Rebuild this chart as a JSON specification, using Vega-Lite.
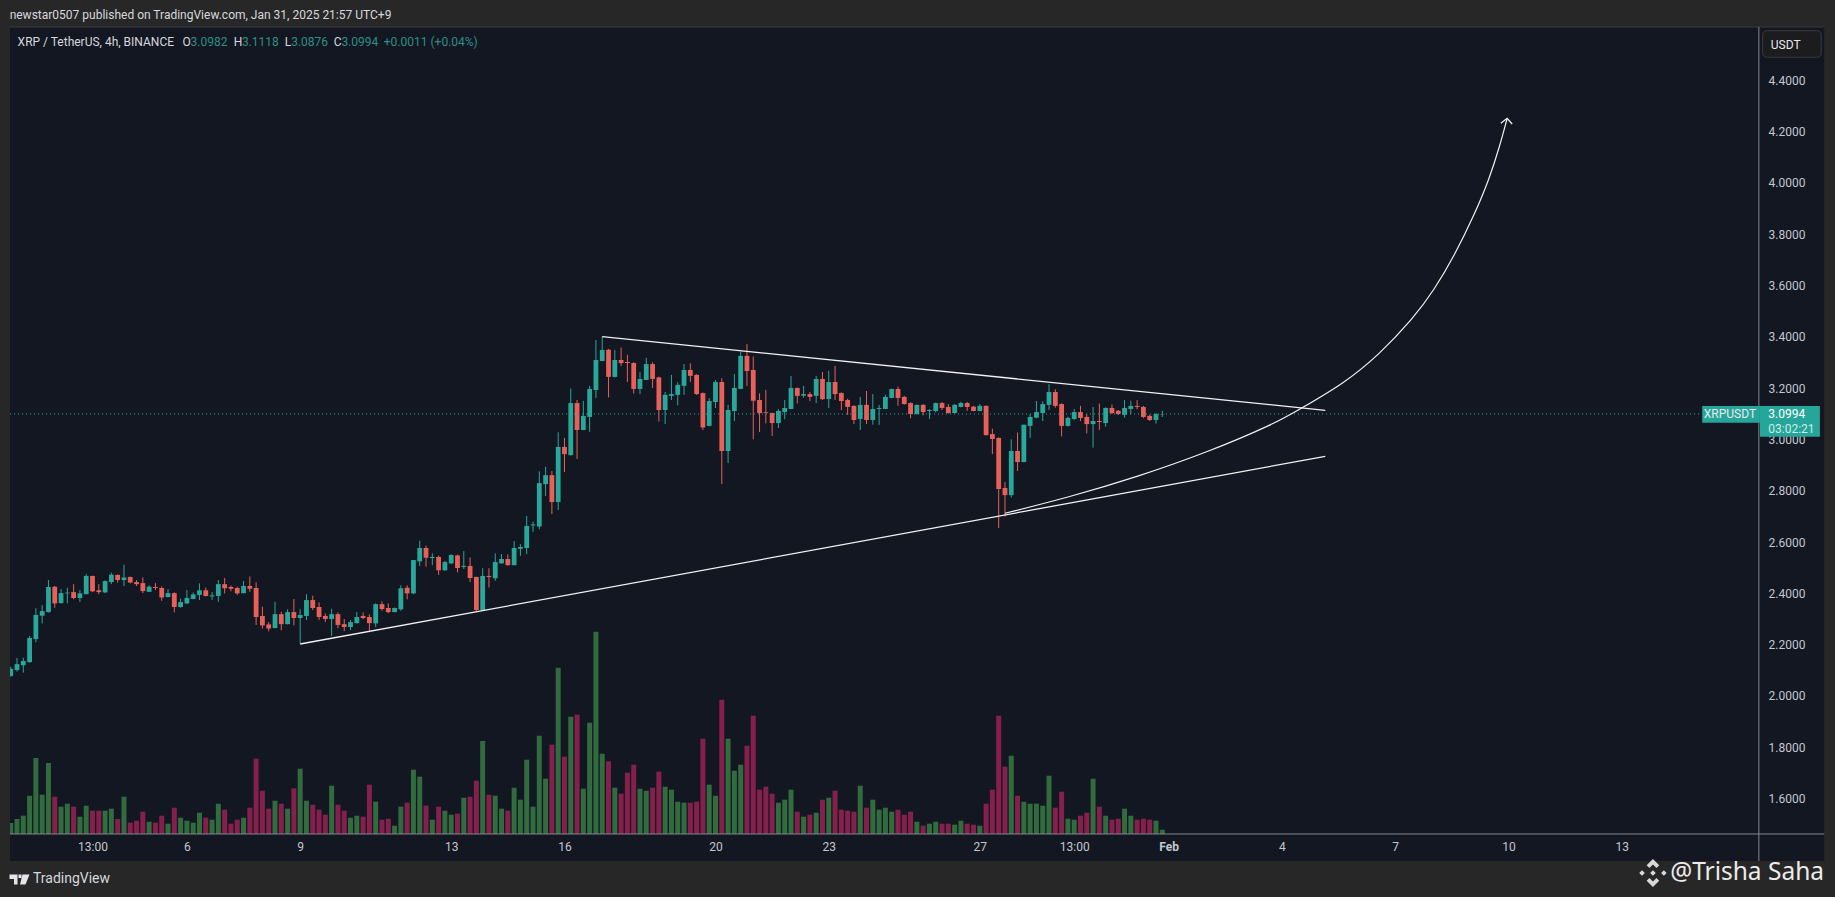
{
  "$schema": "https://vega.github.io/schema/vega-lite/v6.json",
  "description": "XRP / TetherUS 4h candles with volume, triangle trendlines and a projected breakout curve.",
  "width": 1835,
  "height": 897,
  "autosize": {"type": "none"},
  "padding": 0,
  "background": "#272727",
  "view": {"fill": "#131722", "stroke": null},
  "config": {"scale": {"continuousPadding": 0}},
  "data": {"values": [
    {"i":0,"o":2.078,"h":2.114,"l":2.075,"c":2.106,"v":11},
    {"i":1,"o":2.101,"h":2.148,"l":2.095,"c":2.124,"v":15},
    {"i":2,"o":2.12,"h":2.149,"l":2.091,"c":2.136,"v":18.3},
    {"i":3,"o":2.132,"h":2.234,"l":2.13,"c":2.226,"v":38.3},
    {"i":4,"o":2.222,"h":2.342,"l":2.209,"c":2.316,"v":76},
    {"i":5,"o":2.313,"h":2.354,"l":2.283,"c":2.331,"v":39.3},
    {"i":6,"o":2.327,"h":2.452,"l":2.325,"c":2.425,"v":71},
    {"i":7,"o":2.426,"h":2.429,"l":2.344,"c":2.361,"v":37.3},
    {"i":8,"o":2.362,"h":2.417,"l":2.361,"c":2.401,"v":27.3},
    {"i":9,"o":2.4,"h":2.422,"l":2.361,"c":2.403,"v":30.3},
    {"i":10,"o":2.405,"h":2.436,"l":2.377,"c":2.382,"v":27.3},
    {"i":11,"o":2.382,"h":2.413,"l":2.366,"c":2.4,"v":17.3},
    {"i":12,"o":2.397,"h":2.475,"l":2.396,"c":2.468,"v":28.3},
    {"i":13,"o":2.468,"h":2.469,"l":2.405,"c":2.408,"v":23.3},
    {"i":14,"o":2.412,"h":2.436,"l":2.397,"c":2.405,"v":23.3},
    {"i":15,"o":2.404,"h":2.451,"l":2.401,"c":2.448,"v":23.3},
    {"i":16,"o":2.444,"h":2.481,"l":2.436,"c":2.473,"v":25.3},
    {"i":17,"o":2.472,"h":2.474,"l":2.442,"c":2.452,"v":15},
    {"i":18,"o":2.452,"h":2.512,"l":2.429,"c":2.462,"v":37.3},
    {"i":19,"o":2.464,"h":2.466,"l":2.439,"c":2.442,"v":11.3},
    {"i":20,"o":2.444,"h":2.452,"l":2.429,"c":2.436,"v":13.3},
    {"i":21,"o":2.44,"h":2.462,"l":2.401,"c":2.409,"v":22.3},
    {"i":22,"o":2.406,"h":2.432,"l":2.405,"c":2.426,"v":12.3},
    {"i":23,"o":2.425,"h":2.44,"l":2.413,"c":2.421,"v":11.3},
    {"i":24,"o":2.421,"h":2.427,"l":2.371,"c":2.384,"v":18.3},
    {"i":25,"o":2.386,"h":2.417,"l":2.384,"c":2.401,"v":10.3},
    {"i":26,"o":2.401,"h":2.404,"l":2.326,"c":2.347,"v":26.3},
    {"i":27,"o":2.347,"h":2.38,"l":2.344,"c":2.366,"v":16.3},
    {"i":28,"o":2.361,"h":2.413,"l":2.358,"c":2.382,"v":13.3},
    {"i":29,"o":2.378,"h":2.404,"l":2.377,"c":2.396,"v":11.3},
    {"i":30,"o":2.394,"h":2.439,"l":2.374,"c":2.412,"v":21.3},
    {"i":31,"o":2.412,"h":2.423,"l":2.388,"c":2.39,"v":16.3},
    {"i":32,"o":2.388,"h":2.405,"l":2.374,"c":2.392,"v":14.3},
    {"i":33,"o":2.39,"h":2.452,"l":2.367,"c":2.436,"v":30.3},
    {"i":34,"o":2.436,"h":2.46,"l":2.4,"c":2.42,"v":24.3},
    {"i":35,"o":2.425,"h":2.431,"l":2.408,"c":2.418,"v":10.3},
    {"i":36,"o":2.421,"h":2.426,"l":2.394,"c":2.4,"v":14.3},
    {"i":37,"o":2.401,"h":2.448,"l":2.4,"c":2.429,"v":16.3},
    {"i":38,"o":2.429,"h":2.466,"l":2.406,"c":2.418,"v":26.3},
    {"i":39,"o":2.421,"h":2.443,"l":2.277,"c":2.308,"v":75.3},
    {"i":40,"o":2.312,"h":2.348,"l":2.263,"c":2.275,"v":43.3},
    {"i":41,"o":2.279,"h":2.288,"l":2.252,"c":2.263,"v":25.3},
    {"i":42,"o":2.265,"h":2.367,"l":2.263,"c":2.319,"v":33.3},
    {"i":43,"o":2.319,"h":2.329,"l":2.256,"c":2.28,"v":30.3},
    {"i":44,"o":2.28,"h":2.338,"l":2.279,"c":2.327,"v":25.3},
    {"i":45,"o":2.327,"h":2.378,"l":2.275,"c":2.304,"v":45.7},
    {"i":46,"o":2.304,"h":2.338,"l":2.205,"c":2.316,"v":65.3},
    {"i":47,"o":2.312,"h":2.397,"l":2.296,"c":2.374,"v":33.3},
    {"i":48,"o":2.374,"h":2.391,"l":2.335,"c":2.343,"v":29.3},
    {"i":49,"o":2.347,"h":2.365,"l":2.296,"c":2.308,"v":24.3},
    {"i":50,"o":2.312,"h":2.322,"l":2.288,"c":2.3,"v":19.3},
    {"i":51,"o":2.3,"h":2.34,"l":2.234,"c":2.319,"v":48.3},
    {"i":52,"o":2.319,"h":2.326,"l":2.265,"c":2.277,"v":29.3},
    {"i":53,"o":2.28,"h":2.3,"l":2.253,"c":2.269,"v":23.3},
    {"i":54,"o":2.269,"h":2.296,"l":2.257,"c":2.288,"v":16.3},
    {"i":55,"o":2.284,"h":2.327,"l":2.283,"c":2.308,"v":18.3},
    {"i":56,"o":2.312,"h":2.326,"l":2.299,"c":2.304,"v":17.3},
    {"i":57,"o":2.308,"h":2.318,"l":2.249,"c":2.284,"v":49.3},
    {"i":58,"o":2.283,"h":2.361,"l":2.269,"c":2.358,"v":32.3},
    {"i":59,"o":2.358,"h":2.369,"l":2.332,"c":2.339,"v":14.3},
    {"i":60,"o":2.343,"h":2.361,"l":2.323,"c":2.327,"v":15.3},
    {"i":61,"o":2.327,"h":2.345,"l":2.327,"c":2.343,"v":8.3},
    {"i":62,"o":2.338,"h":2.432,"l":2.332,"c":2.42,"v":27.3},
    {"i":63,"o":2.422,"h":2.431,"l":2.377,"c":2.4,"v":31.3},
    {"i":64,"o":2.4,"h":2.53,"l":2.397,"c":2.53,"v":64.3},
    {"i":65,"o":2.525,"h":2.605,"l":2.507,"c":2.577,"v":57.3},
    {"i":66,"o":2.577,"h":2.586,"l":2.504,"c":2.539,"v":28.3},
    {"i":67,"o":2.538,"h":2.556,"l":2.51,"c":2.542,"v":14.3},
    {"i":68,"o":2.542,"h":2.547,"l":2.472,"c":2.49,"v":27.3},
    {"i":69,"o":2.49,"h":2.527,"l":2.488,"c":2.522,"v":23.3},
    {"i":70,"o":2.517,"h":2.552,"l":2.514,"c":2.55,"v":19.3},
    {"i":71,"o":2.548,"h":2.551,"l":2.482,"c":2.499,"v":20.3},
    {"i":72,"o":2.503,"h":2.565,"l":2.495,"c":2.507,"v":36.3},
    {"i":73,"o":2.507,"h":2.54,"l":2.444,"c":2.46,"v":37.3},
    {"i":74,"o":2.464,"h":2.465,"l":2.332,"c":2.335,"v":53.3},
    {"i":75,"o":2.335,"h":2.498,"l":2.332,"c":2.468,"v":93},
    {"i":76,"o":2.468,"h":2.498,"l":2.423,"c":2.464,"v":39.3},
    {"i":77,"o":2.459,"h":2.556,"l":2.449,"c":2.522,"v":38.3},
    {"i":78,"o":2.517,"h":2.553,"l":2.516,"c":2.534,"v":25.3},
    {"i":79,"o":2.534,"h":2.552,"l":2.508,"c":2.51,"v":23.3},
    {"i":80,"o":2.51,"h":2.604,"l":2.509,"c":2.577,"v":46.3},
    {"i":81,"o":2.574,"h":2.592,"l":2.546,"c":2.581,"v":34.3},
    {"i":82,"o":2.577,"h":2.702,"l":2.553,"c":2.663,"v":74.3},
    {"i":83,"o":2.665,"h":2.68,"l":2.64,"c":2.669,"v":27.3},
    {"i":84,"o":2.661,"h":2.876,"l":2.65,"c":2.83,"v":98.3},
    {"i":85,"o":2.826,"h":2.893,"l":2.78,"c":2.861,"v":55.3},
    {"i":86,"o":2.861,"h":2.877,"l":2.709,"c":2.756,"v":89.3},
    {"i":87,"o":2.756,"h":3.028,"l":2.725,"c":2.971,"v":166.3},
    {"i":88,"o":2.971,"h":3.006,"l":2.873,"c":2.943,"v":77.3},
    {"i":89,"o":2.939,"h":3.199,"l":2.937,"c":3.142,"v":117.3},
    {"i":90,"o":3.142,"h":3.154,"l":2.924,"c":3.037,"v":119.3},
    {"i":91,"o":3.037,"h":3.15,"l":3.036,"c":3.092,"v":45.3},
    {"i":92,"o":3.088,"h":3.209,"l":3.03,"c":3.197,"v":111.3},
    {"i":93,"o":3.193,"h":3.388,"l":3.162,"c":3.31,"v":202.3},
    {"i":94,"o":3.306,"h":3.401,"l":3.305,"c":3.349,"v":80.3},
    {"i":95,"o":3.35,"h":3.353,"l":3.164,"c":3.244,"v":72.7},
    {"i":96,"o":3.244,"h":3.349,"l":3.242,"c":3.31,"v":46.3},
    {"i":97,"o":3.31,"h":3.358,"l":3.287,"c":3.298,"v":40.3},
    {"i":98,"o":3.302,"h":3.33,"l":3.224,"c":3.298,"v":61.3},
    {"i":99,"o":3.298,"h":3.301,"l":3.179,"c":3.197,"v":69.3},
    {"i":100,"o":3.197,"h":3.263,"l":3.177,"c":3.236,"v":45.3},
    {"i":101,"o":3.232,"h":3.318,"l":3.231,"c":3.294,"v":43.3},
    {"i":102,"o":3.294,"h":3.301,"l":3.201,"c":3.236,"v":46.3},
    {"i":103,"o":3.242,"h":3.245,"l":3.07,"c":3.115,"v":62.3},
    {"i":104,"o":3.115,"h":3.185,"l":3.06,"c":3.174,"v":47.3},
    {"i":105,"o":3.17,"h":3.252,"l":3.154,"c":3.177,"v":44.3},
    {"i":106,"o":3.174,"h":3.223,"l":3.133,"c":3.213,"v":32.3},
    {"i":107,"o":3.209,"h":3.294,"l":3.174,"c":3.271,"v":31.3},
    {"i":108,"o":3.271,"h":3.297,"l":3.224,"c":3.248,"v":31.3},
    {"i":109,"o":3.252,"h":3.254,"l":3.174,"c":3.177,"v":32.3},
    {"i":110,"o":3.181,"h":3.183,"l":3.037,"c":3.047,"v":95.3},
    {"i":111,"o":3.053,"h":3.161,"l":3.051,"c":3.15,"v":49.3},
    {"i":112,"o":3.146,"h":3.232,"l":3.123,"c":3.224,"v":38.3},
    {"i":113,"o":3.224,"h":3.239,"l":2.826,"c":2.955,"v":134.3},
    {"i":114,"o":2.955,"h":3.135,"l":2.908,"c":3.115,"v":95.3},
    {"i":115,"o":3.111,"h":3.255,"l":3.072,"c":3.201,"v":63.3},
    {"i":116,"o":3.197,"h":3.342,"l":3.196,"c":3.326,"v":69.3},
    {"i":117,"o":3.326,"h":3.372,"l":3.209,"c":3.267,"v":88.3},
    {"i":118,"o":3.271,"h":3.323,"l":3.001,"c":3.151,"v":118.3},
    {"i":119,"o":3.154,"h":3.18,"l":3.029,"c":3.103,"v":44.3},
    {"i":120,"o":3.106,"h":3.193,"l":3.063,"c":3.103,"v":47.3},
    {"i":121,"o":3.103,"h":3.105,"l":3.014,"c":3.064,"v":40.3},
    {"i":122,"o":3.064,"h":3.119,"l":3.045,"c":3.111,"v":31.3},
    {"i":123,"o":3.107,"h":3.154,"l":3.079,"c":3.123,"v":34.3},
    {"i":124,"o":3.119,"h":3.248,"l":3.118,"c":3.201,"v":44.3},
    {"i":125,"o":3.201,"h":3.202,"l":3.141,"c":3.17,"v":22.3},
    {"i":126,"o":3.171,"h":3.209,"l":3.163,"c":3.177,"v":17.3},
    {"i":127,"o":3.177,"h":3.185,"l":3.15,"c":3.166,"v":19.3},
    {"i":128,"o":3.17,"h":3.248,"l":3.142,"c":3.236,"v":21.3},
    {"i":129,"o":3.236,"h":3.263,"l":3.154,"c":3.157,"v":34.3},
    {"i":130,"o":3.158,"h":3.268,"l":3.123,"c":3.224,"v":36.3},
    {"i":131,"o":3.224,"h":3.287,"l":3.154,"c":3.177,"v":43.3},
    {"i":132,"o":3.181,"h":3.184,"l":3.115,"c":3.15,"v":24.3},
    {"i":133,"o":3.154,"h":3.159,"l":3.096,"c":3.127,"v":23.3},
    {"i":134,"o":3.131,"h":3.133,"l":3.06,"c":3.076,"v":22.3},
    {"i":135,"o":3.08,"h":3.166,"l":3.037,"c":3.135,"v":48.3},
    {"i":136,"o":3.135,"h":3.189,"l":3.06,"c":3.076,"v":26.3},
    {"i":137,"o":3.076,"h":3.177,"l":3.058,"c":3.119,"v":34.3},
    {"i":138,"o":3.119,"h":3.135,"l":3.057,"c":3.123,"v":24.3},
    {"i":139,"o":3.119,"h":3.175,"l":3.118,"c":3.166,"v":26.3},
    {"i":140,"o":3.162,"h":3.198,"l":3.161,"c":3.197,"v":22.3},
    {"i":141,"o":3.197,"h":3.206,"l":3.131,"c":3.162,"v":24.3},
    {"i":142,"o":3.166,"h":3.17,"l":3.136,"c":3.138,"v":19.3},
    {"i":143,"o":3.142,"h":3.145,"l":3.083,"c":3.099,"v":22.3},
    {"i":144,"o":3.099,"h":3.136,"l":3.098,"c":3.135,"v":12.3},
    {"i":145,"o":3.135,"h":3.138,"l":3.094,"c":3.107,"v":8.3},
    {"i":146,"o":3.111,"h":3.118,"l":3.08,"c":3.115,"v":10.3},
    {"i":147,"o":3.111,"h":3.144,"l":3.105,"c":3.142,"v":12.3},
    {"i":148,"o":3.142,"h":3.146,"l":3.115,"c":3.123,"v":10.3},
    {"i":149,"o":3.127,"h":3.138,"l":3.101,"c":3.103,"v":10.3},
    {"i":150,"o":3.103,"h":3.138,"l":3.102,"c":3.135,"v":9.3},
    {"i":151,"o":3.127,"h":3.147,"l":3.125,"c":3.142,"v":13.3},
    {"i":152,"o":3.142,"h":3.146,"l":3.112,"c":3.127,"v":10.3},
    {"i":153,"o":3.128,"h":3.131,"l":3.11,"c":3.111,"v":9.3},
    {"i":154,"o":3.111,"h":3.138,"l":3.11,"c":3.131,"v":8.3},
    {"i":155,"o":3.131,"h":3.133,"l":3.016,"c":3.017,"v":30.3},
    {"i":156,"o":3.021,"h":3.042,"l":2.943,"c":3.002,"v":44.3},
    {"i":157,"o":3.006,"h":3.008,"l":2.655,"c":2.807,"v":118.3},
    {"i":158,"o":2.811,"h":2.834,"l":2.699,"c":2.783,"v":67.3},
    {"i":159,"o":2.783,"h":3.001,"l":2.774,"c":2.955,"v":78.3},
    {"i":160,"o":2.955,"h":3.027,"l":2.877,"c":2.912,"v":38.3},
    {"i":161,"o":2.912,"h":3.058,"l":2.911,"c":3.057,"v":32.3},
    {"i":162,"o":3.053,"h":3.099,"l":3.006,"c":3.088,"v":30.3},
    {"i":163,"o":3.085,"h":3.15,"l":3.082,"c":3.107,"v":30.3},
    {"i":164,"o":3.103,"h":3.149,"l":3.072,"c":3.138,"v":28.3},
    {"i":165,"o":3.135,"h":3.216,"l":3.115,"c":3.185,"v":58.3},
    {"i":166,"o":3.185,"h":3.196,"l":3.124,"c":3.131,"v":26.3},
    {"i":167,"o":3.138,"h":3.141,"l":3.012,"c":3.053,"v":42.3},
    {"i":168,"o":3.053,"h":3.089,"l":3.05,"c":3.084,"v":15.3},
    {"i":169,"o":3.08,"h":3.119,"l":3.076,"c":3.107,"v":14.3},
    {"i":170,"o":3.107,"h":3.131,"l":3.072,"c":3.084,"v":18.3},
    {"i":171,"o":3.088,"h":3.099,"l":3.024,"c":3.06,"v":21.3},
    {"i":172,"o":3.06,"h":3.127,"l":2.968,"c":3.072,"v":55.3},
    {"i":173,"o":3.072,"h":3.14,"l":3.037,"c":3.068,"v":27.3},
    {"i":174,"o":3.064,"h":3.125,"l":3.05,"c":3.123,"v":18.3},
    {"i":175,"o":3.123,"h":3.136,"l":3.099,"c":3.103,"v":14.3},
    {"i":176,"o":3.112,"h":3.115,"l":3.096,"c":3.099,"v":15.3},
    {"i":177,"o":3.096,"h":3.154,"l":3.085,"c":3.123,"v":25.3},
    {"i":178,"o":3.119,"h":3.151,"l":3.099,"c":3.131,"v":18.3},
    {"i":179,"o":3.131,"h":3.153,"l":3.118,"c":3.127,"v":14.3},
    {"i":180,"o":3.127,"h":3.131,"l":3.083,"c":3.088,"v":15.3},
    {"i":181,"o":3.092,"h":3.096,"l":3.072,"c":3.076,"v":14.3},
    {"i":182,"o":3.076,"h":3.102,"l":3.062,"c":3.099,"v":13.3},
    {"i":183,"o":3.0982,"h":3.1118,"l":3.0876,"c":3.0994,"v":4.3}
  ]},
  "resolve": {"scale": {"y": "independent"}},
  "layer": [
    {
      "mark": {"type": "bar", "size": 5, "orient": "vertical"},
      "encoding": {
        "x": {"field": "i", "type": "quantitative", "scale": {"domain": [-1.7, 289.9]}},
        "y": {"field": "v", "type": "quantitative", "stack": null, "scale": {"domain": [-63, 834]}, "axis": null},
        "y2": {"datum": 0},
        "color": {"condition": {"test": "datum.c >= datum.o", "value": "#316B3E"}, "value": "#851F4C"}
      }
    },
    {
      "layer": [
        {
          "mark": {"type": "rule", "strokeWidth": 1},
          "encoding": {
            "x": {"field": "i", "type": "quantitative", "scale": {"domain": [-1.7, 289.9]},
              "axis": {
                "orient": "bottom", "offset": -63, "title": null, "grid": false, "ticks": false, "domain": false,
                "values": [13, 28, 46, 70, 88, 112, 130, 154, 169, 184, 202, 220, 238, 256],
                "labelExpr": "datum.value == 13 || datum.value == 169 ? '13:00' : datum.value == 28 ? '6' : datum.value == 46 ? '9' : datum.value == 70 ? '13' : datum.value == 88 ? '16' : datum.value == 112 ? '20' : datum.value == 130 ? '23' : datum.value == 154 ? '27' : datum.value == 184 ? 'Feb' : datum.value == 202 ? '4' : datum.value == 220 ? '7' : datum.value == 238 ? '10' : '13'",
                "labelFont": "Roboto", "labelFontSize": 12, "labelColor": "#c3c6ce", "labelPadding": 7, "labelOverlap": false, "labelFlush": false,
                "labelFontWeight": {"condition": {"test": "datum.value == 184", "value": "bold"}, "value": "normal"}
              }
            },
            "y": {"field": "h", "type": "quantitative", "scale": {"domain": [1.2163, 4.7134]},
              "axis": {
                "orient": "right", "offset": -76, "title": null, "grid": false, "ticks": false, "domain": false,
                "values": [1.6, 1.8, 2, 2.2, 2.4, 2.6, 2.8, 3, 3.2, 3.4, 3.6, 3.8, 4, 4.2, 4.4],
                "format": ".4f", "labelFont": "Roboto", "labelFontSize": 12, "labelColor": "#c3c6ce", "labelPadding": 9, "labelOverlap": false, "labelFlush": false
              }
            },
            "y2": {"field": "l"},
            "color": {"condition": {"test": "datum.c >= datum.o", "value": "#2AA79B"}, "value": "#E8605A"}
          }
        },
        {
          "mark": {"type": "bar", "size": 4.8, "orient": "vertical"},
          "encoding": {
            "x": {"field": "i", "type": "quantitative", "scale": {"domain": [-1.7, 289.9]}},
            "y": {"field": "o", "type": "quantitative", "stack": null, "scale": {"domain": [1.2163, 4.7134]}},
            "y2": {"field": "c"},
            "color": {"condition": {"test": "datum.c >= datum.o", "value": "#2AA79B"}, "value": "#E8605A"}
          }
        },
        {
          "data": {"values": [
            {"i": -1.7, "i2": 289.9, "p": 4.6082, "p2": 4.7134},
            {"i": -1.7, "i2": 289.9, "p": 1.2163, "p2": 1.3567},
            {"i": -1.7, "i2": -0.11, "p": 1.3567, "p2": 4.6082},
            {"i": 288.2, "i2": 289.9, "p": 1.3567, "p2": 4.6082}
          ]},
          "mark": {"type": "rect", "color": "#272727"},
          "encoding": {
            "x": {"field": "i", "type": "quantitative", "scale": {"domain": [-1.7, 289.9]}},
            "x2": {"field": "i2"},
            "y": {"field": "p", "type": "quantitative", "scale": {"domain": [1.2163, 4.7134]}},
            "y2": {"field": "p2"}
          }
        },
        {
          "data": {"values": [{"i": -0.11, "i2": 288.2, "p": 4.6082}]},
          "mark": {"type": "rule", "strokeWidth": 1, "color": "#3C3C42"},
          "encoding": {
            "x": {"field": "i", "type": "quantitative", "scale": {"domain": [-1.7, 289.9]}},
            "x2": {"field": "i2"},
            "y": {"field": "p", "type": "quantitative", "scale": {"domain": [1.2163, 4.7134]}}
          }
        },
        {
          "data": {"values": [
            {"i": -0.11, "i2": 288.2, "p": 1.462, "p2": 1.462},
            {"i": 277.8, "i2": 277.8, "p": 1.3567, "p2": 4.6082}
          ]},
          "mark": {"type": "rule", "strokeWidth": 1, "color": "#85878E"},
          "encoding": {
            "x": {"field": "i", "type": "quantitative", "scale": {"domain": [-1.7, 289.9]}},
            "x2": {"field": "i2"},
            "y": {"field": "p", "type": "quantitative", "scale": {"domain": [1.2163, 4.7134]}},
            "y2": {"field": "p2"}
          }
        },
        {
          "data": {"values": [{"i": -0.11, "i2": 268.8, "p": 3.0994}]},
          "mark": {"type": "rule", "strokeWidth": 1, "strokeDash": [1, 3], "color": "#2AA79B"},
          "encoding": {
            "x": {"field": "i", "type": "quantitative", "scale": {"domain": [-1.7, 289.9]}},
            "x2": {"field": "i2"},
            "y": {"field": "p", "type": "quantitative", "scale": {"domain": [1.2163, 4.7134]}}
          }
        },
        {
          "data": {"values": [
            {"i": 94, "p": 3.401, "line": "upper"},
            {"i": 208.9, "p": 3.1138, "line": "upper"},
            {"i": 46, "p": 2.2027, "line": "lower"},
            {"i": 208.9, "p": 2.9345, "line": "lower"},
            {"i": 236.8, "p": 4.2327, "line": "head"},
            {"i": 237.8, "p": 4.2522, "line": "head"},
            {"i": 238.6, "p": 4.23, "line": "head"}
          ]},
          "mark": {"type": "line", "color": "#F2F2F2", "strokeWidth": 1.3},
          "encoding": {
            "x": {"field": "i", "type": "quantitative", "scale": {"domain": [-1.7, 289.9]}},
            "y": {"field": "p", "type": "quantitative", "scale": {"domain": [1.2163, 4.7134]}},
            "detail": {"field": "line"},
            "order": {"field": "i"}
          }
        },
        {
          "data": {"values": [
            {"i": 158, "p": 2.7123},
            {"i": 168.15, "p": 2.7746},
            {"i": 179.09, "p": 2.855},
            {"i": 190.03, "p": 2.9485},
            {"i": 201, "p": 3.0631},
            {"i": 204.8, "p": 3.1177},
            {"i": 211.9, "p": 3.2191},
            {"i": 217.4, "p": 3.3294},
            {"i": 222.9, "p": 3.4725},
            {"i": 226.2, "p": 3.5828},
            {"i": 229.4, "p": 3.7154},
            {"i": 232.7, "p": 3.8819},
            {"i": 234.9, "p": 4.0117},
            {"i": 236.6, "p": 4.1415},
            {"i": 237.8, "p": 4.2522}
          ]},
          "mark": {"type": "line", "color": "#F2F2F2", "strokeWidth": 1.2, "interpolate": "basis"},
          "encoding": {
            "x": {"field": "i", "type": "quantitative", "scale": {"domain": [-1.7, 289.9]}},
            "y": {"field": "p", "type": "quantitative", "scale": {"domain": [1.2163, 4.7134]}}
          }
        },
        {
          "data": {"values": [
            {"i": 268.8, "i2": 277.97, "p": 3.0655, "p2": 3.1306},
            {"i": 277.97, "i2": 287.5, "p": 3.0109, "p2": 3.1306}
          ]},
          "mark": {"type": "rect", "color": "#26A69A"},
          "encoding": {
            "x": {"field": "i", "type": "quantitative", "scale": {"domain": [-1.7, 289.9]}},
            "x2": {"field": "i2"},
            "y": {"field": "p", "type": "quantitative", "scale": {"domain": [1.2163, 4.7134]}},
            "y2": {"field": "p2"}
          }
        },
        {
          "data": {"values": [{"i": 278.4, "i2": 287.7, "p": 4.4901, "p2": 4.5937}]},
          "mark": {"type": "rect", "color": "#1C1C1E", "stroke": "#3A3A3E", "strokeWidth": 1, "cornerRadius": 4},
          "encoding": {
            "x": {"field": "i", "type": "quantitative", "scale": {"domain": [-1.7, 289.9]}},
            "x2": {"field": "i2"},
            "y": {"field": "p", "type": "quantitative", "scale": {"domain": [1.2163, 4.7134]}},
            "y2": {"field": "p2"}
          }
        },
        {
          "data": {"values": [
            {"i": -0.17, "p": 4.655, "text": "newstar0507 published on TradingView.com, Jan 31, 2025 21:57 UTC+9", "tone": "plain"},
            {"i": 1.1, "p": 4.5509, "text": "XRP / TetherUS, 4h, BINANCE", "tone": "plain"},
            {"i": 27.3, "p": 4.5509, "text": "O", "tone": "plain"},
            {"i": 28.59, "p": 4.5509, "text": "3.0982", "tone": "up"},
            {"i": 35.45, "p": 4.5509, "text": "H", "tone": "plain"},
            {"i": 36.74, "p": 4.5509, "text": "3.1118", "tone": "up"},
            {"i": 43.54, "p": 4.5509, "text": "L", "tone": "plain"},
            {"i": 44.57, "p": 4.5509, "text": "3.0876", "tone": "up"},
            {"i": 51.33, "p": 4.5509, "text": "C", "tone": "plain"},
            {"i": 52.55, "p": 4.5509, "text": "3.0994", "tone": "up"},
            {"i": 59.29, "p": 4.5509, "text": "+0.0011 (+0.04%)", "tone": "up"},
            {"i": 279.3, "p": 3.0982, "text": "3.0994", "tone": "tag"},
            {"i": 279.3, "p": 3.0409, "text": "03:02:21", "tone": "countdown"}
          ]},
          "mark": {"type": "text", "align": "left", "baseline": "middle", "font": "Roboto", "fontSize": 12},
          "encoding": {
            "x": {"field": "i", "type": "quantitative", "scale": {"domain": [-1.7, 289.9]}},
            "y": {"field": "p", "type": "quantitative", "scale": {"domain": [1.2163, 4.7134]}},
            "text": {"field": "text"},
            "color": {"field": "tone", "scale": {"domain": ["plain", "up", "tag", "countdown"], "range": ["#D6D8DE", "#2E8F86", "#FFFFFF", "#CDECE8"]}, "legend": null}
          }
        },
        {
          "data": {"values": [
            {"i": 273.2, "p": 3.0982, "text": "XRPUSDT"},
            {"i": 282.06, "p": 4.5392, "text": "USDT"}
          ]},
          "mark": {"type": "text", "align": "center", "baseline": "middle", "font": "Roboto", "fontSize": 12, "color": "#E8E9EC"},
          "encoding": {
            "x": {"field": "i", "type": "quantitative", "scale": {"domain": [-1.7, 289.9]}},
            "y": {"field": "p", "type": "quantitative", "scale": {"domain": [1.2163, 4.7134]}},
            "text": {"field": "text"}
          }
        },
        {
          "data": {"values": [{"i": 3.54, "p": 1.2854, "text": "TradingView"}]},
          "mark": {"type": "text", "align": "left", "baseline": "middle", "font": "Roboto", "fontSize": 14, "color": "#D6D8DE"},
          "encoding": {
            "x": {"field": "i", "type": "quantitative", "scale": {"domain": [-1.7, 289.9]}},
            "y": {"field": "p", "type": "quantitative", "scale": {"domain": [1.2163, 4.7134]}},
            "text": {"field": "text"}
          }
        },
        {
          "data": {"values": [{"i": 263.7, "p": 1.3099, "text": "@Trisha Saha"}]},
          "mark": {"type": "text", "align": "left", "baseline": "middle", "font": "Noto Sans", "fontSize": 24.5, "color": "#ECECEC"},
          "encoding": {
            "x": {"field": "i", "type": "quantitative", "scale": {"domain": [-1.7, 289.9]}},
            "y": {"field": "p", "type": "quantitative", "scale": {"domain": [1.2163, 4.7134]}},
            "text": {"field": "text"}
          }
        },
        {
          "data": {"values": [{"i": 1.4, "p": 1.2846}]},
          "mark": {"type": "point", "filled": true, "opacity": 1, "color": "#E4E5E8", "size": 400, "shape": "M-1 -0.5 H-0.2 V0.5 H-0.55 V-0.05 H-1 Z M-0.1 -0.5 H0.2 V-0.15 H-0.1 Z M0.3 -0.5 H1 L0.6 0.5 H0.05 Z"},
          "encoding": {
            "x": {"field": "i", "type": "quantitative", "scale": {"domain": [-1.7, 289.9]}},
            "y": {"field": "p", "type": "quantitative", "scale": {"domain": [1.2163, 4.7134]}}
          }
        },
        {
          "data": {"values": [{"i": 260.97, "p": 1.3099}]},
          "mark": {"type": "point", "filled": true, "opacity": 1, "color": "#D9D9D9", "size": 784, "shape": "M0 -1 L0.45 -0.55 L0.25 -0.35 L0 -0.6 L-0.25 -0.35 L-0.45 -0.55 Z M0 1 L0.45 0.55 L0.25 0.35 L0 0.6 L-0.25 0.35 L-0.45 0.55 Z M-0.78 -0.2 L-0.58 0 L-0.78 0.2 L-0.98 0 Z M0.78 -0.2 L0.98 0 L0.78 0.2 L0.58 0 Z M0 -0.2 L0.2 0 L0 0.2 L-0.2 0 Z"},
          "encoding": {
            "x": {"field": "i", "type": "quantitative", "scale": {"domain": [-1.7, 289.9]}},
            "y": {"field": "p", "type": "quantitative", "scale": {"domain": [1.2163, 4.7134]}}
          }
        }
      ]
    }
  ]
}
